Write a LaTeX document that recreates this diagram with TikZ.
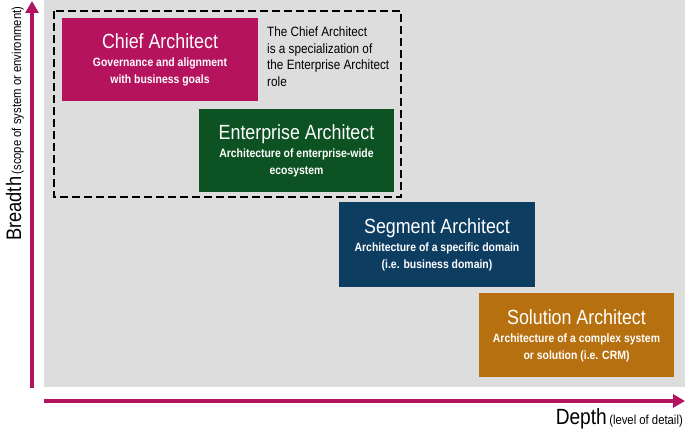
\documentclass[tikz,border=0pt]{standalone}
\usepackage{fontspec}
\setmainfont{Liberation Sans}[FakeStretch=0.87]
\usetikzlibrary{arrows.meta}
\definecolor{bggray}{HTML}{DDDDDD}
\definecolor{chiefc}{HTML}{B5135E}
\definecolor{entc}{HTML}{0D5223}
\definecolor{segc}{HTML}{0E3D62}
\definecolor{solc}{HTML}{B7700F}
\definecolor{axisc}{HTML}{B3145F}
\tikzset{
  rolelabel/.style={text=white, align=center, inner sep=0pt, font=\fontsize{12}{16.5}\selectfont\bfseries},
  axis/.style={draw=axisc, line width=4pt, -{Triangle[width=13pt,length=12pt]}},
}
\newcommand{\roletitle}[1]{{\fontsize{20.5}{16.5}\mdseries\selectfont #1}}
\begin{document}
\begin{tikzpicture}[x=1pt,y=-1pt]
\useasboundingbox (0,0) rectangle (685,430);
\fill[bggray] (44,0) rectangle (685,387);
% boxes
\fill[chiefc] (62,18) rectangle (258,101);
\node[rolelabel] (chief) at (160,60) {\roletitle{Chief Architect}\\[1.5pt]Governance and alignment\\with business goals};
\fill[entc] (199,109) rectangle (394,192);
\node[rolelabel] (ent) at (296.5,151) {\roletitle{Enterprise Architect}\\[1.5pt]Architecture of enterprise-wide\\ecosystem};
\fill[segc] (339,202) rectangle (535,287);
\node[rolelabel] (seg) at (437,245) {\roletitle{Segment Architect}\\[1.5pt]Architecture of a specific domain\\(i.e. business domain)};
\fill[solc] (479,293) rectangle (674,377);
\node[rolelabel] (sol) at (576.5,336) {\roletitle{Solution Architect}\\[1.5pt]Architecture of a complex system\\or solution (i.e. CRM)};
% dashed frame
\draw[black, line width=2.5pt, dash pattern=on 8pt off 4pt] (54,11) rectangle (401,197);
\node[anchor=north west, align=left, inner sep=0pt, font=\fontsize{13.5}{16.5}\selectfont] (note) at (267,27) {The Chief Architect\\is a specialization of\\the Enterprise Architect\\role};
% axes
\coordinate (vs) at (32,388);
\coordinate (ve) at (32,1);
\coordinate (hs) at (44,401);
\coordinate (he) at (685,401);
\draw[axis] (vs) -- (ve);
\draw[axis] (hs) -- (he);
\node[rotate=90, anchor=base west, inner sep=0pt] (breadth) at (21,241) {{\fontsize{21}{23}\selectfont Breadth} {\fontsize{13}{15}\selectfont (scope of system or environment)}};
\node[anchor=base east, inner sep=0pt] (depth) at (683,424) {{\fontsize{22}{24}\selectfont Depth} {\fontsize{13}{15}\selectfont (level of detail)}};
\end{tikzpicture}
\end{document}
